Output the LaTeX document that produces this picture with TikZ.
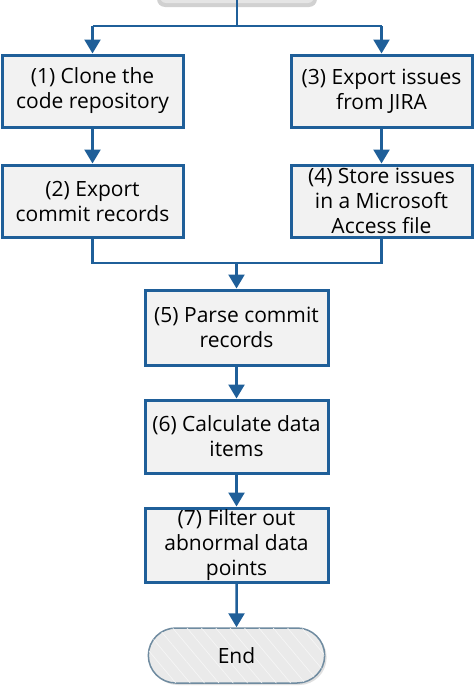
\documentclass[tikz,border=0pt]{standalone}
\usepackage{fontspec}
\setmainfont{Open Sans}
\usetikzlibrary{arrows.meta,shadows,patterns.meta,shapes.misc}
\definecolor{flowblue}{HTML}{1F5F99}
\definecolor{boxfill}{HTML}{F2F2F2}
\definecolor{endborder}{HTML}{6F8BA0}
\definecolor{endfill}{HTML}{EAEAEA}
\tikzset{
  stepbox/.style={draw=flowblue, line width=3pt, fill=boxfill, minimum width=181pt, minimum height=72pt,
    align=center, font=\fontsize{21}{25}\selectfont, inner sep=0pt,
    drop shadow={shadow xshift=2pt, shadow yshift=-2pt, fill=black!25, opacity=0.5}},
  endbox/.style={draw=endborder, line width=1.5pt, rounded rectangle, fill=endfill,
    minimum width=183pt, minimum height=55pt, font=\fontsize{21}{25}\selectfont,
    postaction={pattern={Lines[angle=-50, distance=11pt, line width=0.6pt]}, pattern color=white!60!endfill},
    drop shadow={shadow xshift=2pt, shadow yshift=-2pt, fill=black!25, opacity=0.5}},
  flow/.style={draw=flowblue, line width=2.5pt},
  flowarrow/.style={flow, -{Triangle[width=16pt,length=14pt]}},
}
\begin{document}
\begin{tikzpicture}[x=1pt,y=-1pt]
\useasboundingbox (0,0) rectangle (474,696);
\begin{scope}
\clip (0,0) rectangle (474,696);
\fill[black!18, rounded corners=8pt] (157,-30) rectangle (317,7);
\fill[black!10, rounded corners=6pt] (160,-30) rectangle (314,3);
\end{scope}
\coordinate (top) at (237,0);
\coordinate (split) at (237,26);
\coordinate (splitL) at (92.5,26);
\coordinate (splitR) at (381.5,26);
\node[stepbox] (b1) at (92.5,91) {(1) Clone the\\code repository};
\node[stepbox] (b3) at (381.5,91) {(3) Export issues\\from JIRA};
\node[stepbox] (b2) at (92.5,201) {(2) Export\\commit records};
\node[stepbox] (b4) at (381.5,201) {(4) Store issues\\in a Microsoft\\Access file};
\node[stepbox, minimum width=183pt, minimum height=75pt] (b5) at (236.5,327.5) {(5) Parse commit\\records};
\node[stepbox, minimum width=183pt, minimum height=73pt] (b6) at (236.5,436.5) {(6) Calculate data\\items};
\node[stepbox, minimum width=183pt, minimum height=74pt] (b7) at (236.5,545) {(7) Filter out\\abnormal data\\points};
\node[endbox] (end) at (236.5,655.5) {End};
\coordinate (joinL) at (92.5,263);
\coordinate (joinR) at (381.5,263);
\coordinate (join) at (236.5,263);
\draw[flow] (top) -- (split);
\draw[flow] (splitL) -- (splitR);
\draw[flowarrow] (splitL) -- (b1.north);
\draw[flowarrow] (splitR) -- (b3.north);
\draw[flowarrow] (b1) -- (b2);
\draw[flowarrow] (b3) -- (b4);
\draw[flow] (b2.south) -- (joinL) -- (joinR) -- (b4.south);
\draw[flowarrow] (join) -- (b5.north);
\draw[flowarrow] (b5) -- (b6);
\draw[flowarrow] (b6) -- (b7);
\draw[flowarrow] (b7) -- (end);
\end{tikzpicture}
\end{document}
